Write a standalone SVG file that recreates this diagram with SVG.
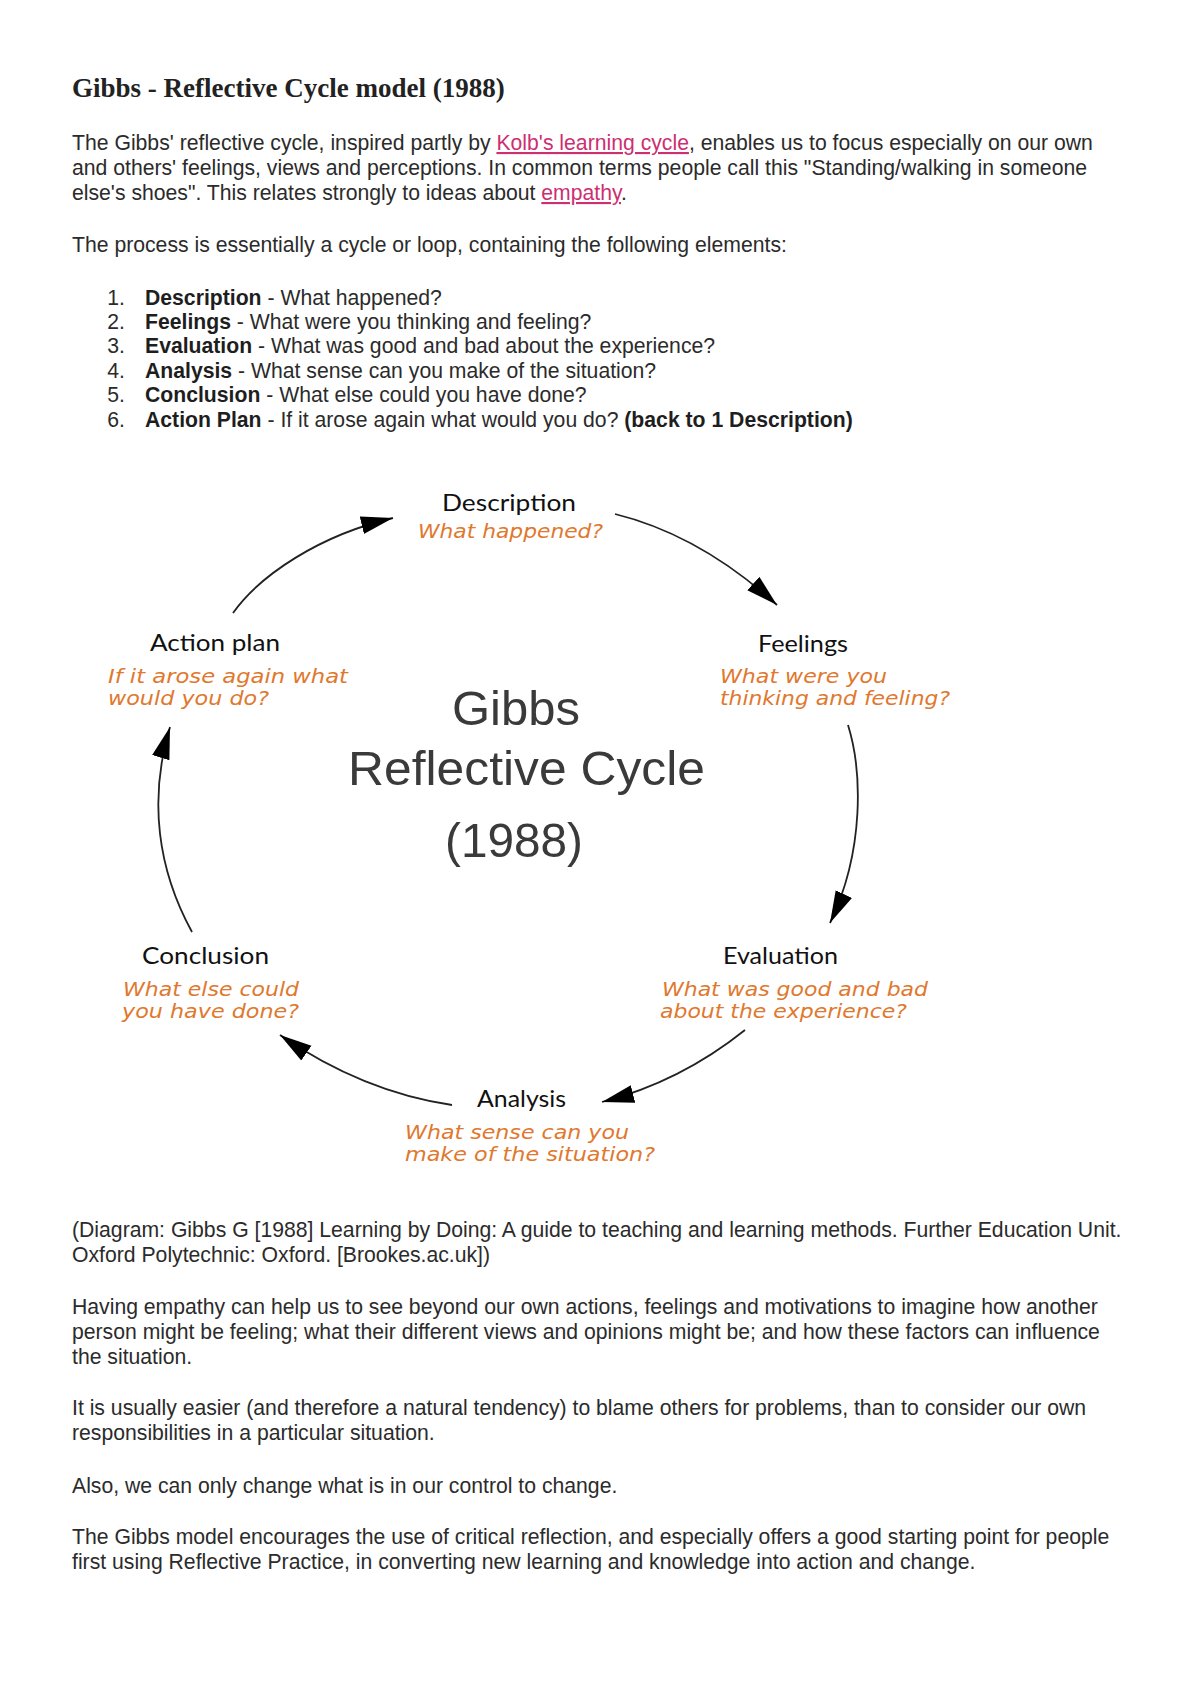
<svg xmlns="http://www.w3.org/2000/svg" width="1200" height="1696" viewBox="0 0 1200 1696">
<style>
.title{font-family:"Liberation Serif","Times New Roman",serif;font-weight:bold;font-size:27px;fill:#222}
.body{font-family:"Liberation Sans",Arial,sans-serif;font-size:21.2px;fill:#2b2b2b}
.b{font-weight:bold;fill:#1e1e1e}
.link{fill:#cc2f72;text-decoration:underline}
.lbl{font-family:Lato,"Open Sans",sans-serif;font-size:24px;fill:#111}
.q{font-family:"DejaVu Sans",Verdana,sans-serif;font-style:italic;font-size:19.5px;fill:#e0782e}
.center{font-family:"Liberation Sans",Arial,sans-serif;font-size:48.5px;fill:#3a3a3a}
.arr{fill:none;stroke:#222;stroke-width:1.8;marker-end:url(#ah)}
</style>
<defs>
<marker id="ah" markerUnits="userSpaceOnUse" markerWidth="34" markerHeight="20" refX="32" refY="9" orient="auto">
<path d="M0,0 L32,9 L0,18 z" fill="#000"/>
</marker>
</defs>
<rect width="1200" height="1696" fill="#fff"/>

<g id="header">
<text class="title" x="72" y="97">Gibbs - Reflective Cycle model (1988)</text>
<text class="body" x="72" y="150">The Gibbs' reflective cycle, inspired partly by <tspan class="link">Kolb's learning cycle</tspan>, enables us to focus especially on our own</text>
<text class="body" x="72" y="175">and others' feelings, views and perceptions. In common terms people call this "Standing/walking in someone</text>
<text class="body" x="72" y="200">else's shoes". This relates strongly to ideas about <tspan class="link">empathy</tspan>.</text>
<text class="body" x="72" y="252">The process is essentially a cycle or loop, containing the following elements:</text>
</g>

<g id="list">
<text class="body" x="125" y="305" text-anchor="end">1.</text>
<text class="body" x="145" y="305"><tspan class="b">Description</tspan> - What happened?</text>
<text class="body" x="125" y="329" text-anchor="end">2.</text>
<text class="body" x="145" y="329"><tspan class="b">Feelings</tspan> - What were you thinking and feeling?</text>
<text class="body" x="125" y="353" text-anchor="end">3.</text>
<text class="body" x="145" y="353"><tspan class="b">Evaluation</tspan> - What was good and bad about the experience?</text>
<text class="body" x="125" y="378" text-anchor="end">4.</text>
<text class="body" x="145" y="378"><tspan class="b">Analysis</tspan> - What sense can you make of the situation?</text>
<text class="body" x="125" y="402" text-anchor="end">5.</text>
<text class="body" x="145" y="402"><tspan class="b">Conclusion</tspan> - What else could you have done?</text>
<text class="body" x="125" y="427" text-anchor="end">6.</text>
<text class="body" x="145" y="427"><tspan class="b">Action Plan</tspan> - If it arose again what would you do? <tspan class="b">(back to 1 Description)</tspan></text>
</g>

<g id="connectors">
<path class="arr" d="M615,514 Q700,535 777,605"/>
<path class="arr" d="M848,725 C862,770 865,850 830,923"/>
<path class="arr" d="M745,1030 Q680,1082 602,1102"/>
<path class="arr" d="M452,1105 Q363,1092 280,1035"/>
<path class="arr" d="M192,932 C158,870 148,800 170,727"/>
<path class="arr" d="M233,613 C260,575 320,535 393,518"/>
</g>

<g id="center-title">
<text class="center" x="452" y="725" textLength="128" lengthAdjust="spacingAndGlyphs">Gibbs</text>
<text class="center" x="348" y="785" textLength="357" lengthAdjust="spacingAndGlyphs">Reflective Cycle</text>
<text class="center" x="445" y="857" textLength="138" lengthAdjust="spacingAndGlyphs">(1988)</text>
</g>

<g id="node-description">
<text class="lbl" x="442" y="511" textLength="134" lengthAdjust="spacingAndGlyphs">Description</text>
<text class="q" x="418" y="538" textLength="185" lengthAdjust="spacingAndGlyphs">What happened?</text>
</g>

<g id="node-feelings">
<text class="lbl" x="758" y="652" textLength="90" lengthAdjust="spacingAndGlyphs">Feelings</text>
<text class="q" x="720" y="683" textLength="167" lengthAdjust="spacingAndGlyphs">What were you</text>
<text class="q" x="720" y="705" textLength="230" lengthAdjust="spacingAndGlyphs">thinking and feeling?</text>
</g>

<g id="node-evaluation">
<text class="lbl" x="723" y="964" textLength="115" lengthAdjust="spacingAndGlyphs">Evaluation</text>
<text class="q" x="662" y="996" textLength="266" lengthAdjust="spacingAndGlyphs">What was good and bad</text>
<text class="q" x="660" y="1018" textLength="247" lengthAdjust="spacingAndGlyphs">about the experience?</text>
</g>

<g id="node-analysis">
<text class="lbl" x="477" y="1107" textLength="89" lengthAdjust="spacingAndGlyphs">Analysis</text>
<text class="q" x="405" y="1139" textLength="224" lengthAdjust="spacingAndGlyphs">What sense can you</text>
<text class="q" x="405" y="1161" textLength="250" lengthAdjust="spacingAndGlyphs">make of the situation?</text>
</g>

<g id="node-conclusion">
<text class="lbl" x="142" y="964" textLength="127" lengthAdjust="spacingAndGlyphs">Conclusion</text>
<text class="q" x="123" y="996" textLength="176" lengthAdjust="spacingAndGlyphs">What else could</text>
<text class="q" x="122" y="1018" textLength="177" lengthAdjust="spacingAndGlyphs">you have done?</text>
</g>

<g id="node-action-plan">
<text class="lbl" x="150" y="651" textLength="130" lengthAdjust="spacingAndGlyphs">Action plan</text>
<text class="q" x="108" y="683" textLength="240" lengthAdjust="spacingAndGlyphs">If it arose again what</text>
<text class="q" x="108" y="705" textLength="161" lengthAdjust="spacingAndGlyphs">would you do?</text>
</g>

<g id="footer">
<text class="body" x="72" y="1237">(Diagram: Gibbs G [1988] Learning by Doing: A guide to teaching and learning methods. Further Education Unit.</text>
<text class="body" x="72" y="1262">Oxford Polytechnic: Oxford. [Brookes.ac.uk])</text>
<text class="body" x="72" y="1314">Having empathy can help us to see beyond our own actions, feelings and motivations to imagine how another</text>
<text class="body" x="72" y="1339">person might be feeling; what their different views and opinions might be; and how these factors can influence</text>
<text class="body" x="72" y="1364">the situation.</text>
<text class="body" x="72" y="1415">It is usually easier (and therefore a natural tendency) to blame others for problems, than to consider our own</text>
<text class="body" x="72" y="1440">responsibilities in a particular situation.</text>
<text class="body" x="72" y="1493">Also, we can only change what is in our control to change.</text>
<text class="body" x="72" y="1544">The Gibbs model encourages the use of critical reflection, and especially offers a good starting point for people</text>
<text class="body" x="72" y="1569">first using Reflective Practice, in converting new learning and knowledge into action and change.</text>
</g>
</svg>
